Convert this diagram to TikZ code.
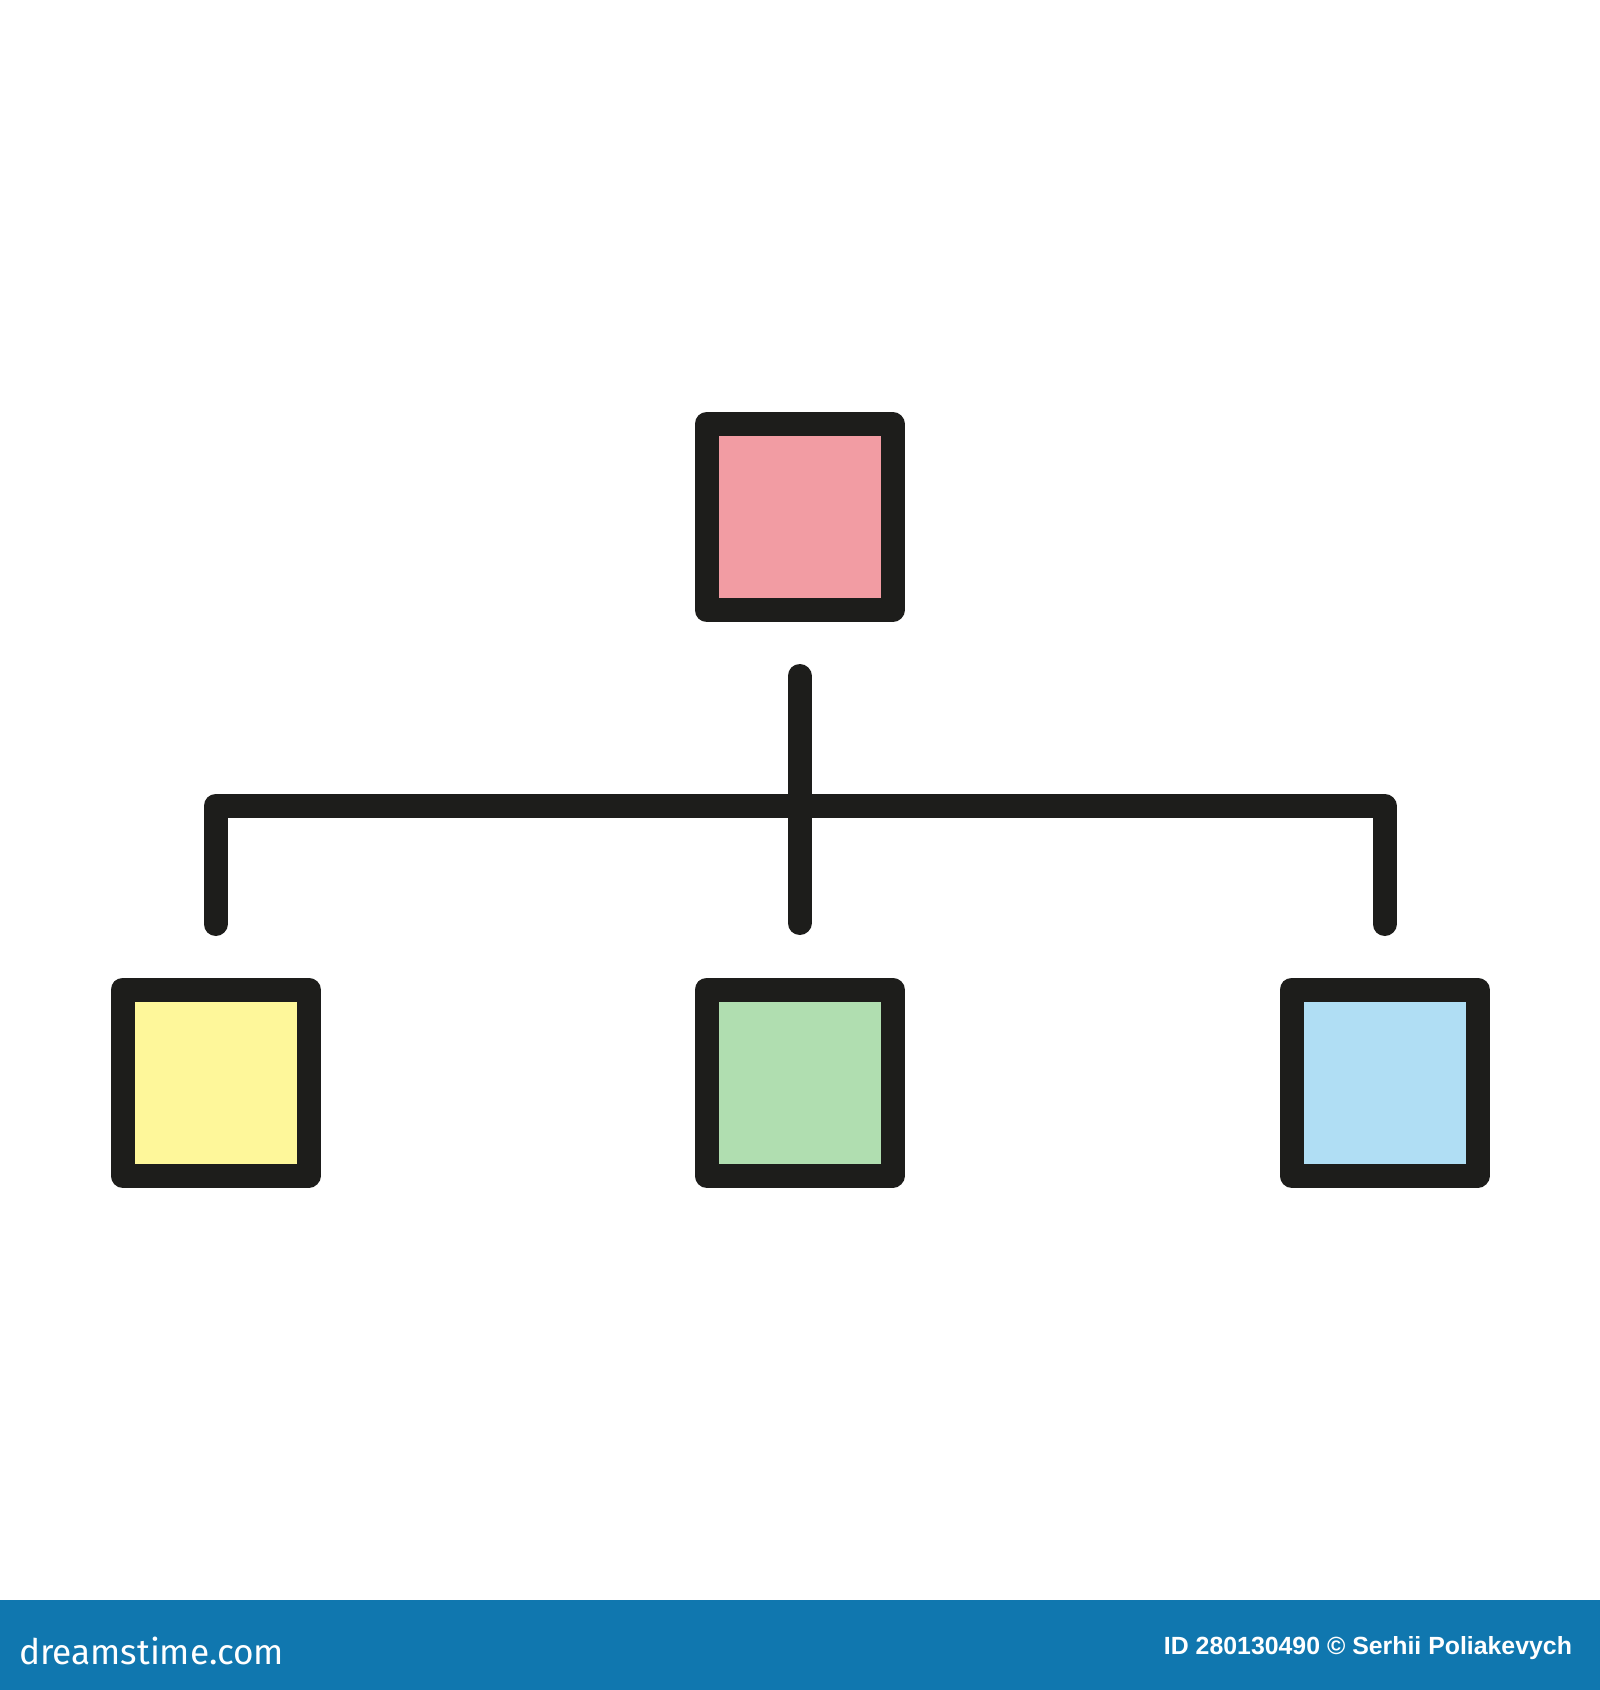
\documentclass[tikz,border=0pt]{standalone}
\usepackage{fontspec}
\setmainfont{Liberation Sans}
\newfontfamily\logofont{Fira Sans}
\usetikzlibrary{calc}
\definecolor{ink}{HTML}{1D1D1B}
\definecolor{pinkfill}{HTML}{F29CA3}
\definecolor{yellowfill}{HTML}{FEF79A}
\definecolor{greenfill}{HTML}{B0DEB0}
\definecolor{bluefill}{HTML}{B0DEF4}
\definecolor{bannerblue}{HTML}{1077AF}
\tikzset{
  box/.style={draw=ink, line width=24pt, line join=round, rectangle,
    minimum width=186pt, minimum height=186pt, inner sep=0pt, outer sep=0pt},
  conn/.style={draw=ink, line width=24pt, line cap=round, line join=round},
  bannertext/.style={text=white, inner sep=0pt, outer sep=0pt}
}
\begin{document}
\begin{tikzpicture}[x=1pt, y=-1pt]
\useasboundingbox (0,0) rectangle (1600,1690);
\fill[white] (0,0) rectangle (1600,1690);
\node[box, fill=pinkfill] (top) at (799.5,517) {};
\node[box, fill=yellowfill] (left) at (215.5,1082.5) {};
\node[box, fill=greenfill] (mid) at (799.5,1082.5) {};
\node[box, fill=bluefill] (right) at (1384.5,1082.5) {};
\coordinate (bus) at (799.5,806);
\draw[conn, shorten <=66pt, shorten >=66.5pt] (top.south) -- (mid.north);
\draw[conn, shorten <=65.5pt, shorten >=65.5pt] (left.north) |- (bus) -| (right.north);
\fill[bannerblue] (0,1600) rectangle (1600,1690);
\node[bannertext, anchor=base west] (logo) at (19,1664)
  {\resizebox{265pt}{!}{\logofont\fontsize{30}{36}\selectfont dreamstime.com}};
\node[bannertext, anchor=base east] (credit) at (1572,1654)
  {\resizebox{408pt}{!}{\bfseries\fontsize{24}{28}\selectfont ID 280130490 © Serhii Poliakevych}};
\end{tikzpicture}
\end{document}
